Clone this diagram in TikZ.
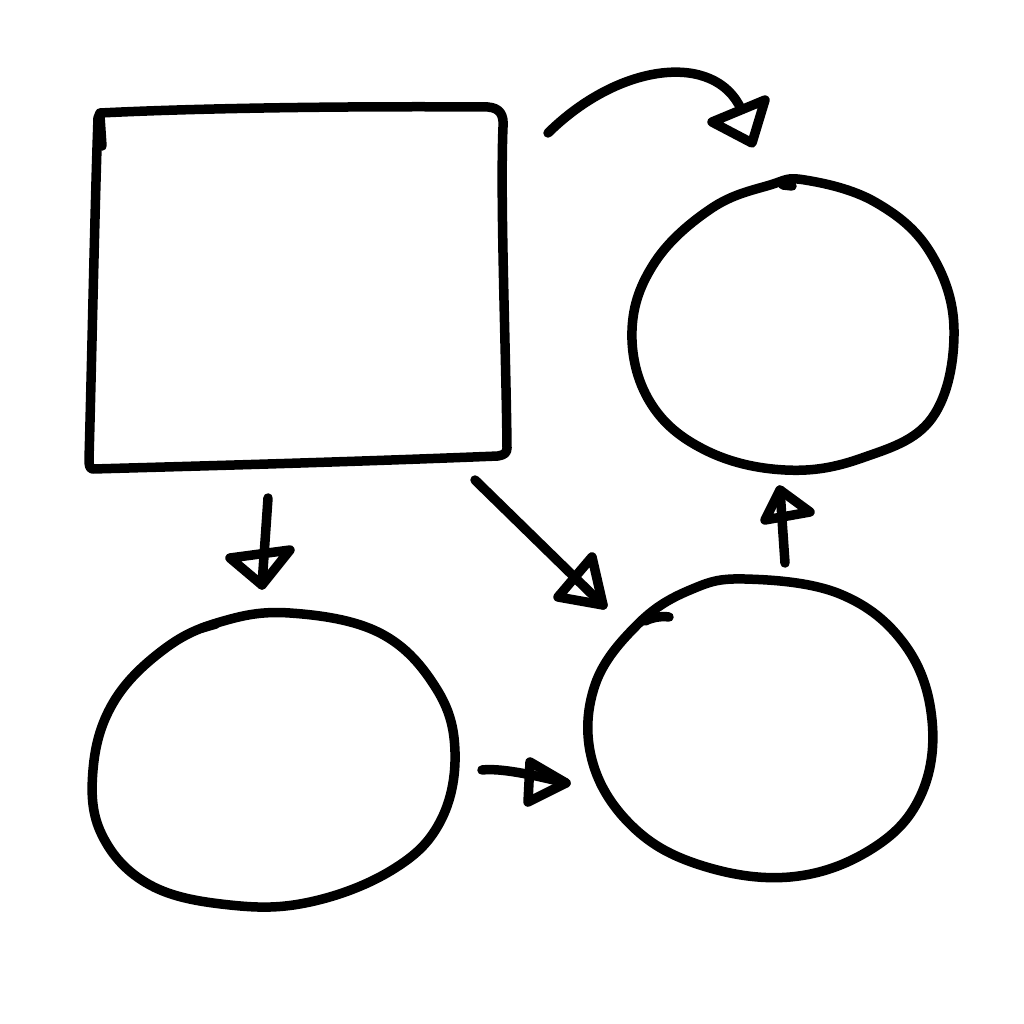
\documentclass[tikz,border=0pt]{standalone}
\tikzset{
  ink/.style={line width=9.5pt, line cap=round, line join=round, draw=black},
  headtri/.style={ink},
}
\begin{document}
\begin{tikzpicture}[x=1pt,y=-1pt]
\useasboundingbox[fill=white] (0,0) rectangle (1024,1024);

% box
\draw[ink] (100,113) .. controls (200,108) and (350,106) .. (488,107)
  .. controls (500,108) and (504,115) .. (503,127)
  .. controls (500,200) and (506,350) .. (507,448)
  .. controls (507,453) and (504,455) .. (498,456)
  .. controls (350,462) and (200,466) .. (93,469)
  .. controls (90,469) and (89,466) .. (89,460)
  .. controls (92,350) and (95,200) .. (98,118) -- cycle;
\draw[ink] (100,116) -- (102,146);

% top-right circle
\draw[ink] plot[smooth cycle, tension=0.65] coordinates {
  (805,180) (875,202) (930,252) (954,330) (932,418) (862,458) (785,470)
  (705,450) (650,402) (632,330) (655,262) (712,208) (770,185)};
\draw[ink] (783,185) -- (792,186);

% bottom-left circle
\draw[ink] plot[smooth cycle, tension=0.65] coordinates {
  (290,613) (380,633) (436,688) (455,752) (440,822) (392,870) (310,902)
  (230,905) (150,885) (102,835) (93,770) (113,703) (163,650) (220,622)};
\draw[ink] (202,628) -- (216,624);

% bottom-right circle
\draw[ink] plot[smooth cycle, tension=0.65] coordinates {
  (745,579) (840,594) (905,645) (932,720) (920,797) (870,850) (790,877)
  (700,865) (632,826) (592,760) (595,685) (638,624) (690,590)};
\draw[ink] (645,621) .. controls (653,617) and (662,616) .. (669,617);

% arrow coordinates
\coordinate (c1s) at (548,133);
\coordinate (c1e) at (741,109);
\coordinate (dns) at (268,498);
\coordinate (dne) at (262,585);
\coordinate (dgs) at (475,480);
\coordinate (dge) at (603,605);
\coordinate (rts) at (482,770);
\coordinate (rte) at (566,783);
\coordinate (ups) at (785,563);
\coordinate (upe) at (780,490);

% curved arrow
\draw[ink] (c1s) .. controls (620,62) and (715,52) .. (c1e);
\draw[headtri] (712,122) -- (765,100) -- (752,143) -- cycle;

% down arrow
\draw[ink] (dns) -- (dne);
\draw[headtri] (230,558) -- (290,550) -- (dne) -- cycle;

% diagonal arrow
\draw[ink] (dgs) -- (dge);
\draw[headtri] (558,597) -- (592,557) -- (dge) -- cycle;

% right arrow
\draw[ink] (rts) .. controls (500,768) and (530,774) .. (rte);
\draw[headtri] (530,762) -- (rte) -- (528,802) -- cycle;

% up arrow
\draw[ink] (ups) -- (upe);
\draw[headtri] (765,520) -- (upe) -- (810,512) -- cycle;
\end{tikzpicture}
\end{document}
